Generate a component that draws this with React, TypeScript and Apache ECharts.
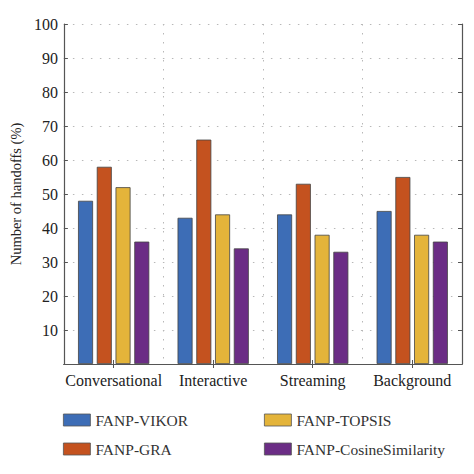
import React, { useEffect, useRef } from "react";
import * as echarts from "echarts";

const categories = ["Conversational", "Interactive", "Streaming", "Background"];
const seriesNames = ["FANP-VIKOR", "FANP-GRA", "FANP-TOPSIS", "FANP-CosineSimilarity"];
const vikor = [48, 43, 44, 45];
const gra = [58, 66, 53, 55];
const topsis = [52, 44, 38, 38];
const cosine = [36, 34, 33, 36];
const colors = ["#3D6DB6", "#C4521F", "#E4B43A", "#6B2D85"];
const yTicks = { min: 0, max: 100, interval: 10 };

const FONT = "Liberation Serif";

export default function App() {
  const ref = useRef<HTMLDivElement>(null);
  useEffect(() => {
    if (!ref.current) return;
    const chart = echarts.init(ref.current, undefined, { renderer: "svg" });
    const values = [vikor, gra, topsis, cosine];
    const halfCats: string[] = [];
    categories.forEach((c) => {
      halfCats.push(c + "_a");
      halfCats.push(c + "_b");
    });
    const axisLine = { show: true, lineStyle: { color: "#555", width: 1.2 } };
    const tick = { show: true, inside: true, length: 4, lineStyle: { color: "#555" } };
    const legendCommon = {
      orient: "vertical",
      top: 407,
      itemWidth: 27,
      itemHeight: 12,
      itemGap: 13,
      icon: "rect",
      textStyle: { fontFamily: FONT, fontSize: 15.5, color: "#333" },
      itemStyle: { borderColor: "#555", borderWidth: 0.8 },
    };
    chart.setOption({
      animation: false,
      backgroundColor: "#fff",
      textStyle: { fontFamily: FONT },
      grid: { left: 60, top: 24, right: 12, bottom: 110, containLabel: false },
      legend: [
        { ...legendCommon, data: seriesNames.slice(0, 2), left: 58 },
        { ...legendCommon, data: seriesNames.slice(2), left: 259 },
      ],
      xAxis: [
        {
          type: "category",
          data: categories,
          position: "bottom",
          axisLine,
          axisTick: { ...tick, alignWithLabel: true },
          axisLabel: { fontFamily: FONT, fontSize: 16, color: "#222", margin: 8, interval: 0 },
          splitLine: { show: false },
        },
        {
          type: "category",
          data: categories,
          position: "top",
          axisLine,
          axisTick: { ...tick, alignWithLabel: true },
          axisLabel: { show: false },
          splitLine: { show: false },
        },
        {
          type: "category",
          data: halfCats,
          position: "bottom",
          axisLine: { show: false },
          axisTick: { show: false },
          axisLabel: { show: false },
          splitLine: {
            show: true,
            interval: (i: number) => i % 2 === 0,
            lineStyle: { color: "#b8b8b8", type: [1.5, 7.5], width: 1 },
          },
        },
      ],
      yAxis: [
        {
          type: "value",
          ...yTicks,
          position: "left",
          name: "Number of handoffs (%)",
          nameLocation: "middle",
          nameGap: 39,
          nameTextStyle: { fontFamily: FONT, fontSize: 14.5, color: "#222" },
          axisLine,
          axisTick: tick,
          axisLabel: {
            fontFamily: FONT,
            fontSize: 16,
            color: "#222",
            margin: 6,
            formatter: (v: number) => (v === 0 ? "" : String(v)),
          },
          splitLine: {
            show: true,
            lineStyle: { color: "#b8b8b8", type: [1.5, 7.5], width: 1 },
          },
        },
        {
          type: "value",
          ...yTicks,
          position: "right",
          axisLine,
          axisTick: tick,
          axisLabel: { show: false },
          splitLine: { show: false },
        },
      ],
      series: seriesNames.map((name, i) => ({
        name,
        type: "bar",
        xAxisIndex: 0,
        yAxisIndex: 0,
        data: values[i],
        barWidth: 15,
        barGap: "25%",
        itemStyle: { color: colors[i], borderColor: "#444", borderWidth: 0.8 },
      })),
    });
    return () => chart.dispose();
  }, []);
  return <div ref={ref} style={{ width: 474, height: 474, position: "absolute", left: 0, top: 0 }} />;
}
